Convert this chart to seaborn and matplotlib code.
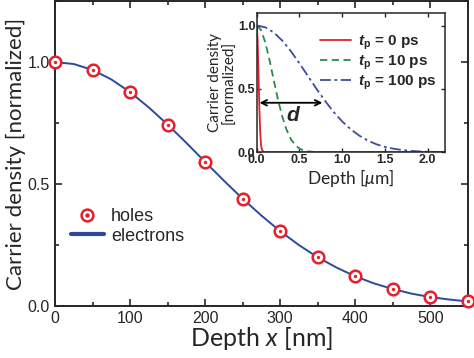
import matplotlib
matplotlib.use("Agg")
import matplotlib.pyplot as plt
import pandas as pd
import seaborn as sns
from matplotlib.lines import Line2D
from matplotlib.ticker import MultipleLocator

# main panel: normalized carrier density vs depth (nm)
DEPTH_NM = [0, 25, 50, 75, 100, 125, 150, 175, 200, 225, 250, 275, 300,
            325, 350, 375, 400, 425, 450, 475, 500, 525, 550]
ELECTRONS = [1.000, 0.992, 0.968, 0.929, 0.877, 0.814, 0.744, 0.669, 0.591,
             0.514, 0.440, 0.371, 0.307, 0.250, 0.200, 0.158, 0.122, 0.093,
             0.070, 0.051, 0.037, 0.027, 0.019]
HOLES_X = [0, 50, 100, 150, 200, 250, 300, 350, 400, 450, 500, 550]
HOLES = [1.000, 0.968, 0.877, 0.744, 0.591, 0.440, 0.307, 0.200, 0.122,
         0.070, 0.037, 0.019]

# inset: profiles for different pulse delays (depth in um)
TP0_X = [0, 0.01, 0.02, 0.03, 0.04, 0.05, 0.06, 0.08, 0.1, 2.2]
TP0_Y = [1.0, 0.89, 0.64, 0.37, 0.17, 0.06, 0.02, 0.002, 0.0, 0.0]
TP10_X = [0, 0.05, 0.1, 0.15, 0.2, 0.25, 0.3, 0.35, 0.4, 0.45, 0.5, 0.55,
          0.6, 0.7, 0.8, 2.2]
TP10_Y = [1.0, 0.965, 0.867, 0.726, 0.566, 0.410, 0.278, 0.175, 0.102,
          0.056, 0.028, 0.013, 0.006, 0.001, 0.0, 0.0]
TP100_X = [0, 0.1, 0.2, 0.3, 0.4, 0.5, 0.6, 0.7, 0.8, 0.9, 1.0, 1.1, 1.2,
           1.3, 1.4, 1.5, 1.6, 1.7, 1.8, 1.9, 2.0, 2.1, 2.2]
TP100_Y = [1.0, 0.986, 0.945, 0.880, 0.797, 0.701, 0.600, 0.499, 0.404,
           0.317, 0.242, 0.180, 0.130, 0.091, 0.062, 0.041, 0.027, 0.017,
           0.010, 0.006, 0.003, 0.002, 0.001]
TP_LABELS = ["0", "10", "100"]
D_ARROW = (0.0, 0.8, 0.39)

RED = "#e3202b"
BLUE = "#2c4a9c"
GREEN = "#2a8a4e"
BLUE2 = "#3b4f98"

sns.set_style("ticks")
plt.rcParams["font.family"] = ["Liberation Sans", "DejaVu Sans"]
plt.rcParams["mathtext.fontset"] = "custom"
plt.rcParams["mathtext.rm"] = "Lato"
plt.rcParams["mathtext.it"] = "Lato:italic"
plt.rcParams["mathtext.bf"] = "Liberation Sans:bold"
plt.rcParams["mathtext.bfit"] = "Liberation Sans:italic:bold"

fig = plt.figure(figsize=(4.74, 3.58), dpi=100)
ax = fig.add_axes([0.116, 0.145, 0.871, 0.852])

df_e = pd.DataFrame({"x": DEPTH_NM, "y": ELECTRONS})
df_h = pd.DataFrame({"x": HOLES_X, "y": HOLES})
sns.lineplot(data=df_e, x="x", y="y", ax=ax, color=BLUE, lw=1.4)
sns.scatterplot(data=df_h, x="x", y="y", ax=ax, marker="o", s=70,
                facecolor="white", edgecolor=RED, linewidth=1.8, zorder=3,
                clip_on=False)
sns.scatterplot(data=df_h, x="x", y="y", ax=ax, marker="o", s=6,
                color=RED, edgecolor=RED, linewidth=0, zorder=4, clip_on=False)

ax.set_xlim(0, 550)
ax.set_ylim(0, 1.25)
ax.xaxis.set_major_locator(MultipleLocator(100))
ax.xaxis.set_minor_locator(MultipleLocator(50))
ax.yaxis.set_major_locator(MultipleLocator(0.5))
ax.yaxis.set_minor_locator(MultipleLocator(0.25))
ax.tick_params(which="both", direction="in", top=True, right=True,
               labelsize=11.5, width=1.2)
ax.tick_params(which="major", length=5)
ax.tick_params(which="minor", length=3)
for s in ax.spines.values():
    s.set_linewidth(1.4)
ax.set_xlabel("Depth $x$ [nm]", family="Lato", fontsize=18, labelpad=-1)
ax.set_ylabel("Carrier density [normalized]", family="Lato", fontsize=16,
              labelpad=1)

h_open = Line2D([], [], ls="", marker="o", ms=8.5, mfc="white", mec=RED, mew=1.8)
h_dot = Line2D([], [], ls="", marker="o", ms=2.2, mfc=RED, mec=RED)
h_line = Line2D([], [], color=BLUE, lw=3)
ax.legend([(h_open, h_dot), h_line], ["holes", "electrons"], loc="center left",
          bbox_to_anchor=(0.0, 0.262), frameon=False, fontsize=13,
          handlelength=1.8, handletextpad=0.4, labelspacing=0.15)

# inset
ins = fig.add_axes([0.5416, 0.575, 0.397, 0.389])
curves = [(TP0_X, TP0_Y, RED, "-"),
          (TP10_X, TP10_Y, GREEN, (0, (4, 2.5))),
          (TP100_X, TP100_Y, BLUE2, (0, (6, 2, 1.5, 2)))]
for (cx, cy, col, ls), lab in zip(curves, TP_LABELS):
    sns.lineplot(x=cx, y=cy, ax=ins, color=col, lw=1.3, linestyle=ls,
                 label=r"$\mathbfit{t}_\mathbf{p}$ = " + lab + " ps")
ins.set_xlim(0, 2.2)
ins.set_ylim(0, 1.1)
ins.xaxis.set_major_locator(MultipleLocator(0.5))
ins.yaxis.set_major_locator(MultipleLocator(0.5))
ins.tick_params(direction="in", top=True, right=True, length=3, width=1,
                labelsize=9, pad=1)
for lbl in ins.get_xticklabels() + ins.get_yticklabels():
    lbl.set_fontweight("bold")
for s in ins.spines.values():
    s.set_linewidth(1.1)
ins.set_xlabel(r"Depth [$\mu$m]", family="Lato", fontsize=12.5, labelpad=1)
ins.set_ylabel("Carrier density\n[normalized]", family="Lato", fontsize=11,
               labelpad=1, linespacing=1.0)
ins.legend(loc="upper right", bbox_to_anchor=(1.03, 0.95), frameon=False,
           prop={"weight": "bold", "size": 11}, handlelength=2.0,
           handletextpad=0.5, labelspacing=0.1)

x0, x1, yd = D_ARROW
ins.annotate("", xy=(x0, yd), xytext=(x1, yd),
             arrowprops=dict(arrowstyle="<->", color="black", lw=1.3))
ins.text(0.42, 0.29, "d", fontsize=15, fontweight="bold",
         style="italic", ha="center", va="center")

fig.savefig("out.png", dpi=100)
